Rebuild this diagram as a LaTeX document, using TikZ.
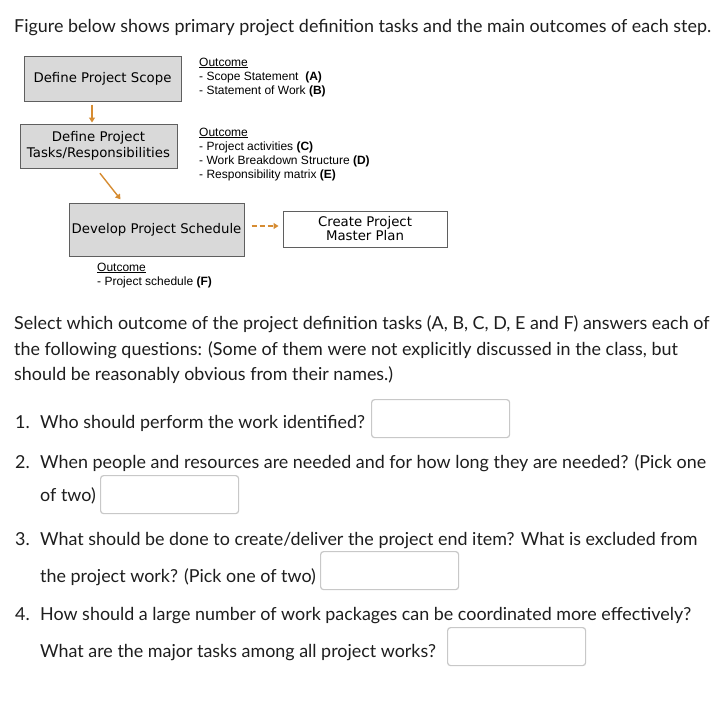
\documentclass[tikz,border=0pt]{standalone}
\usepackage{fontspec}
\setmainfont{Lato}
\newfontfamily\boxfont{DejaVu Sans}
\newfontfamily\arialfont{Liberation Sans}
\usetikzlibrary{arrows.meta}
\definecolor{boxgray}{RGB}{217,217,217}
\definecolor{boxedge}{RGB}{95,95,95}
\definecolor{arrorange}{RGB}{214,140,50}
\definecolor{ansedge}{RGB}{200,200,200}
\definecolor{txtcol}{RGB}{30,30,30}
\tikzset{
  txt/.style={anchor=base west, inner sep=0pt, text=txtcol, font=\fontsize{17.9}{21}\selectfont},
  taskbox/.style={draw=boxedge, fill=boxgray, line width=1pt, align=center, inner sep=0pt,
    font=\boxfont\fontsize{13.3}{16}\selectfont},
  planbox/.style={draw=boxedge, fill=white, line width=1pt, align=center, inner sep=0pt,
    font=\boxfont\fontsize{13.3}{14}\selectfont},
  outc/.style={anchor=base west, inner sep=0pt, align=left,
    font=\arialfont\fontsize{12}{14}\selectfont},
  ansbox/.style={draw=ansedge, fill=white, rounded corners=3pt, line width=1.2pt,
    minimum width=138pt, minimum height=38pt, inner sep=0pt, anchor=north west},
  arr/.style={draw=arrorange, line width=1.4pt, -{Triangle[length=5pt,width=6pt]}},
}
\begin{document}
\begin{tikzpicture}[x=1pt,y=-1pt]
\path[fill=white] (0,0) rectangle (722,704);
\useasboundingbox (0,0) rectangle (722,704);

\node[txt] (title) at (14,32) {Figure below shows primary project definition tasks and the main outcomes of each step.};

% task boxes
\node[taskbox, minimum width=157pt, minimum height=45pt] (b1) at (102.5,78.5) {Define Project Scope};
\node[taskbox, minimum width=157pt, minimum height=44pt] (b2) at (98.5,146) {Define Project\\Tasks/Responsibilities};
\node[taskbox, minimum width=175pt, minimum height=53pt] (b3) at (156.5,229.5) {Develop Project Schedule};
\node[planbox, minimum width=164pt, minimum height=36pt] (b4) at (365,229) {Create Project\\Master Plan};

% outcomes (anchor = baseline of the last line)
\node[outc] (o1) at (199,94) {\underline{Outcome}\\- Scope Statement\ \ \textbf{(A)}\\- Statement of Work \textbf{(B)}};
\node[outc] (o2) at (199,178) {\underline{Outcome}\\- Project activities \textbf{(C)}\\- Work Breakdown Structure \textbf{(D)}\\- Responsibility matrix \textbf{(E)}};
\node[outc] (o3) at (97,285) {\underline{Outcome}\\- Project schedule \textbf{(F)}};

% arrows
\draw[arr, shorten <=3pt, shorten >=1pt] ([xshift=-10.5pt]b1.south) -- ([xshift=-6.5pt]b2.south |- b2.north);
\draw[arr, shorten <=6pt, shorten >=4pt] ([xshift=-2.3pt]b2.south) -- ([xshift=-33.5pt]b3.north);
\draw[arr, dash pattern=on 5pt off 3pt, shorten <=7pt, shorten >=4pt] ([yshift=3.5pt]b3.east) -- ([yshift=3.5pt]b3.east -| b4.west);

% paragraph
\node[txt] (p1) at (14,329) {Select which outcome of the project definition tasks (A, B, C, D, E and F) answers each of};
\node[txt] (p2) at (14,355) {the following questions: (Some of them were not explicitly discussed in the class, but};
\node[txt] (p3) at (14,380) {should be reasonably obvious from their names.)};

% questions
\node[txt] (n1) at (15,428) {1.};
\node[txt] (q1) at (40,428) {Who should perform the work identified?};
\node[ansbox] (a1) at (371,399) {};

\node[txt] (n2) at (15,468) {2.};
\node[txt] (q2) at (40,468) {When people and resources are needed and for how long they are needed? (Pick one};
\node[txt] (q2b) at (40,501) {of two)};
\node[ansbox] (a2) at (100,475) {};

\node[txt] (n3) at (15,545) {3.};
\node[txt] (q3) at (40,545) {What should be done to create/deliver the project end item? What is excluded from};
\node[txt] (q3b) at (40,582) {the project work? (Pick one of two)};
\node[ansbox] (a3) at (320,551) {};

\node[txt] (n4) at (15,620) {4.};
\node[txt] (q4) at (40,620) {How should a large number of work packages can be coordinated more effectively?};
\node[txt] (q4b) at (40,657) {What are the major tasks among all project works?};
\node[ansbox] (a4) at (447,627) {};
\end{tikzpicture}
\end{document}
